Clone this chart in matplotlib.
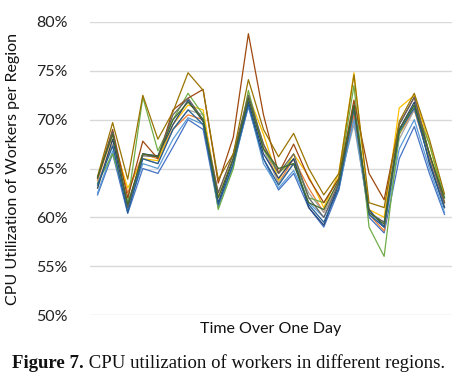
import matplotlib
matplotlib.use('Agg')
import matplotlib.pyplot as plt
from matplotlib.ticker import FuncFormatter

hours = list(range(24))

# CPU utilization (%) per region, one list per region
olive = [64.2, 69.7, 63.9, 72.5, 68.0, 70.8, 74.8, 73.0, 63.9, 66.5, 74.1, 69.0,
         66.2, 68.6, 65.0, 62.3, 64.5, 74.6, 61.5, 61.0, 69.8, 72.7, 68.0, 62.4]
brown = [64.0, 69.0, 62.0, 67.8, 66.0, 71.0, 72.2, 73.1, 63.5, 68.2, 78.8, 70.5,
         64.5, 67.5, 64.0, 61.5, 64.0, 72.0, 64.5, 61.8, 69.5, 72.3, 66.5, 61.5]
green = [63.5, 66.5, 61.5, 72.3, 66.8, 70.0, 72.7, 70.5, 60.8, 65.0, 73.0, 67.0,
         64.5, 66.0, 62.0, 61.5, 64.0, 73.5, 59.0, 56.0, 68.5, 71.5, 67.5, 62.0]
yellow = [63.0, 68.0, 63.0, 66.0, 65.8, 69.5, 71.5, 71.0, 62.0, 66.0, 72.5, 68.5,
          63.8, 66.5, 64.2, 61.0, 64.5, 74.8, 60.8, 60.0, 71.2, 72.5, 67.5, 61.5]
blue = [62.3, 66.5, 60.4, 65.0, 64.5, 67.2, 70.0, 69.0, 61.0, 65.5, 71.3, 66.0,
        62.8, 64.5, 61.0, 59.0, 62.8, 70.5, 60.0, 58.4, 66.0, 69.3, 64.5, 60.3]
light_blue = [62.5, 66.8, 60.8, 65.5, 65.0, 68.0, 70.2, 69.5, 61.2, 65.2, 71.5, 65.5,
              63.0, 64.8, 61.5, 60.0, 63.0, 70.0, 60.3, 59.0, 67.0, 70.0, 65.0, 60.5]
orange = [63.8, 68.5, 62.5, 66.5, 66.0, 69.0, 70.5, 70.0, 62.5, 66.5, 72.0, 67.5,
          63.5, 66.0, 63.0, 60.5, 63.5, 70.5, 60.3, 58.6, 68.5, 71.0, 66.0, 61.0]
gray = [63.5, 67.5, 61.5, 66.0, 65.5, 69.0, 71.0, 70.5, 62.0, 66.0, 72.0, 67.0,
        63.5, 65.5, 62.5, 60.5, 63.5, 69.5, 60.5, 59.5, 68.0, 71.0, 66.5, 61.5]
dark_blue = [63.0, 68.0, 61.0, 66.5, 66.3, 69.5, 72.0, 69.8, 61.5, 66.0, 71.8, 66.5,
             64.0, 66.0, 61.0, 59.2, 63.5, 71.5, 60.8, 59.0, 69.0, 71.8, 65.5, 61.0]
dark_gray = [64.0, 68.8, 61.0, 66.3, 66.2, 70.5, 72.2, 70.0, 62.5, 66.5, 72.5, 67.5,
             64.5, 66.5, 62.0, 60.0, 63.5, 71.0, 60.5, 59.5, 69.5, 72.3, 66.5, 61.5]
steel_blue = [63.3, 67.3, 60.5, 66.0, 65.5, 69.0, 71.0, 69.5, 61.3, 65.5, 71.6, 66.0,
              63.3, 65.5, 61.3, 59.5, 63.0, 71.3, 60.3, 59.0, 68.8, 71.2, 65.8, 61.0]
dark_green = [64.1, 68.5, 61.3, 66.5, 66.2, 70.0, 71.8, 70.0, 62.0, 66.0, 72.2, 67.0,
              65.0, 65.5, 61.5, 60.8, 63.8, 71.5, 60.5, 59.3, 69.0, 71.5, 66.5, 62.0]

series = [
    (blue, '#4472C4'),
    (orange, '#ED7D31'),
    (gray, '#A5A5A5'),
    (yellow, '#FFC000'),
    (light_blue, '#5B9BD5'),
    (green, '#70AD47'),
    (dark_blue, '#264478'),
    (brown, '#9E480E'),
    (dark_gray, '#636363'),
    (olive, '#997300'),
    (steel_blue, '#255E91'),
    (dark_green, '#43682B'),
]

fig = plt.figure(figsize=(4.6, 3.83), dpi=100)
ax = fig.add_axes([0.1957, 0.1775, 0.7869, 0.7651])

for values, color in series:
    ax.plot(hours, values, color=color, linewidth=0.9)

ax.set_xlim(-0.5, 23.5)
ax.set_ylim(50, 80)
ax.set_yticks([50, 55, 60, 65, 70, 75, 80])
ax.yaxis.set_major_formatter(FuncFormatter(lambda v, p: f'{v:.0f}%'))
ax.set_xticks([])
ax.tick_params(axis='y', length=0, pad=16, labelsize=11.5, labelcolor='#222222')
for lbl in ax.get_yticklabels():
    lbl.set_family('Lato')

ax.grid(axis='y', color='#D9D9D9', linewidth=1)
ax.set_axisbelow(True)
for s in ax.spines.values():
    s.set_visible(False)

ax.set_ylabel('CPU Utilization of Workers per Region', family='Lato',
              fontsize=11.5, color='#111111', labelpad=12)
ax.set_xlabel('Time Over One Day', family='Lato', fontsize=11.5,
              color='#111111', labelpad=5)

# caption: bold "Figure 7." followed by regular text
t1 = fig.text(0.026, 0.04, 'Figure 7.', family='Liberation Serif',
              fontweight='bold', fontsize=13.5, color='#111111')
ax.annotate(' CPU utilization of workers in different regions.', xy=(1, 0),
            xycoords=t1, family='Liberation Serif', fontsize=13.5,
            color='#111111', va='bottom', ha='left', annotation_clip=False)

fig.savefig('out.png', dpi=100)
